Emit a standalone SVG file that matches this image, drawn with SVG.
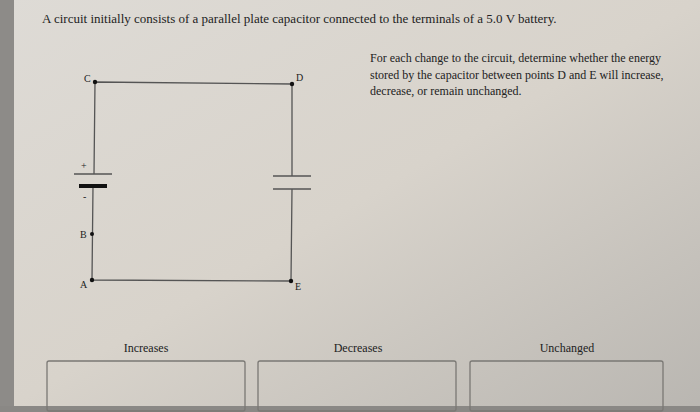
<svg xmlns="http://www.w3.org/2000/svg" width="700" height="412" viewBox="0 0 700 412">
<defs>
<linearGradient id="bg" x1="0" y1="0" x2="1" y2="1">
<stop offset="0" stop-color="#dedbd6"/><stop offset="0.5" stop-color="#d8d3cb"/><stop offset="1" stop-color="#b9b6b1"/>
</linearGradient>
</defs>
<style>
text{font-family:"Liberation Serif",serif;fill:#222}
.w{stroke:#555;stroke-width:1.3;fill:none}
.box{fill:none;stroke:#7a7874;stroke-width:1.3}
</style>
<rect width="700" height="412" fill="url(#bg)"/>
<rect x="0" y="0" width="14" height="412" fill="#8d8b88"/>
<rect x="0" y="406" width="700" height="6" fill="#8a8885"/>
<text x="42" y="23" font-size="13">A circuit initially consists of a parallel plate capacitor connected to the terminals of a 5.0 V battery.</text>
<text font-size="12"><tspan x="370" y="62">For each change to the circuit, determine whether the energy</tspan><tspan x="370" y="79">stored by the capacitor between points D and E will increase,</tspan><tspan x="370" y="95">decrease, or remain unchanged.</tspan></text>
<g id="connectors">
<path class="w" d="M95 82 L292 84 L292 176 M292 189 L291 281 L92 280 L93 186 M94 174 L95 82"/>
</g>
<g id="battery">
<line x1="74" y1="174" x2="112" y2="174" stroke="#555" stroke-width="1.3"/>
<line x1="79" y1="186" x2="107" y2="186" stroke="#111" stroke-width="4"/>
<text x="81" y="169" font-size="10">+</text>
<text x="83" y="200" font-size="10">-</text>
</g>
<g id="capacitor">
<line x1="273" y1="176" x2="311" y2="176" stroke="#555" stroke-width="1.3"/>
<line x1="273" y1="189" x2="311" y2="189" stroke="#555" stroke-width="1.3"/>
</g>
<g id="C"><circle cx="95" cy="82" r="2.2" fill="#111"/><text x="84" y="82" font-size="10">C</text></g>
<g id="D"><circle cx="292" cy="84" r="2.2" fill="#111"/><text x="296" y="81" font-size="10">D</text></g>
<g id="B"><circle cx="92" cy="234" r="2" fill="#111"/><text x="80" y="238" font-size="10">B</text></g>
<g id="A"><circle cx="92" cy="280" r="2.2" fill="#111"/><text x="80" y="288" font-size="10">A</text></g>
<g id="E"><circle cx="291" cy="281" r="2.2" fill="#111"/><text x="295" y="290" font-size="10">E</text></g>
<g id="increases"><text x="146" y="352" font-size="12" text-anchor="middle">Increases</text><rect class="box" x="47" y="361" width="198" height="50" rx="2"/></g>
<g id="decreases"><text x="358" y="352" font-size="12" text-anchor="middle">Decreases</text><rect class="box" x="258" y="361" width="198" height="50" rx="2"/></g>
<g id="unchanged"><text x="567" y="352" font-size="12" text-anchor="middle">Unchanged</text><rect class="box" x="470" y="361" width="193" height="50" rx="2"/></g>
</svg>
